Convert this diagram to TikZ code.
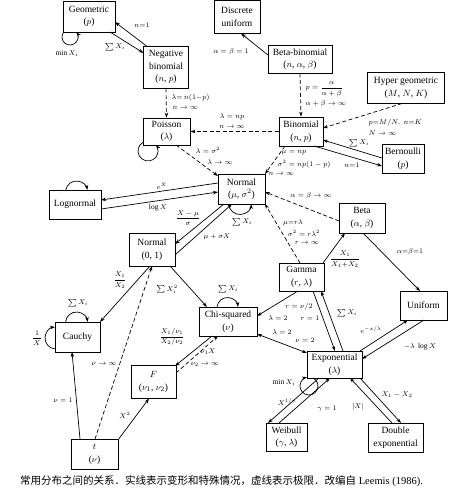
\documentclass[tikz,border=0pt]{standalone}
\usepackage{amsmath}
\usepackage{fontspec}
\setmainfont{Liberation Serif}
\newfontfamily\cjk{Noto Sans CJK SC}
\usetikzlibrary{arrows.meta}
\begin{document}
\begin{tikzpicture}[x=1pt,y=-1pt,
  box/.style={draw, line width=0.9pt, align=center, inner sep=1pt, font=\fontsize{9.5}{12.5}\selectfont},
  sz/.style 2 args={minimum width=#1pt, minimum height=#2pt},
  lbl/.style={font=\fontsize{7.5}{8.5}\selectfont, inner sep=0.5pt},
  arr/.style={-{Stealth[length=5pt,width=3.5pt]}, line width=0.7pt},
  dsh/.style={arr, dash pattern=on 4pt off 2.5pt},
]
\useasboundingbox (0,0) rectangle (474,493);
% boxes
\node[box, sz={52}{31}] (geo) at (89,16.5) {Geometric\\($p$)};
\node[box, sz={45}{42}] (negbin) at (166,67) {Negative\\binomial\\($n$, $p$)};
\node[box, sz={46}{33}] (dunif) at (237,17) {Discrete\\uniform};
\node[box, sz={64}{28}] (betabin) at (300,59) {Beta-binomial\\($n$,\ $\alpha$, $\beta$)};
\node[box, sz={77}{31}] (hyper) at (406,88) {Hyper geometric\\($M$, $N$, $K$)};
\node[box, sz={44}{29}] (binom) at (301,131.5) {Binomial\\($n$, $p$)};
\node[box, sz={42}{29}] (bern) at (403,158.5) {Bernoulli\\($p$)};
\node[box, sz={47}{27}] (poisson) at (166.5,131.5) {Poisson\\($\lambda$)};
\node[box, sz={52}{29}] (logn) at (75,204.5) {Lognormal};
\node[box, sz={47}{30}] (normal) at (241.5,189) {Normal\\($\mu$, $\sigma^2$)};
\node[box, sz={46}{33}] (norm01) at (152,249.5) {Normal\\(0, 1)};
\node[box, sz={46}{30}] (beta) at (362,218) {Beta\\($\alpha$, $\beta$)};
\node[box, sz={45}{28}] (gamma) at (301.5,277) {Gamma\\($r$, $\lambda$)};
\node[box, sz={47}{29}] (unif) at (423.5,305.5) {Uniform};
\node[box, sz={58}{29}] (chisq) at (228,321.5) {Chi-squared\\($\nu$)};
\node[box, sz={45}{30}] (cauchy) at (77.5,337) {Cauchy};
\node[box, sz={45}{33}] (fdist) at (153.5,382) {$F$\\($\nu_1$, $\nu_2$)};
\node[box, sz={55}{27}] (expo) at (334.5,364.5) {Exponential\\($\lambda$)};
\node[box, sz={41}{28}] (weib) at (286.5,437) {Weibull\\($\gamma$, $\lambda$)};
\node[box, sz={55}{29}] (dexp) at (395.5,437.5) {Double\\exponential};
\node[box, sz={47}{30}] (tdist) at (94.5,454) {$t$\\($\nu$)};
% connectors
\draw[arr] ([shift={(-19.5,-21)}]negbin.center) -- ([shift={(26,5.5)}]geo.center);
\draw[arr] ([shift={(21,15.5)}]geo.center) -- ([shift={(-22.5,-14)}]negbin.center);
\draw[dsh] (negbin.south) -- (poisson.north);
\draw[arr] ([shift={(-32,-4)}]betabin.center) -- ([shift={(4,16.5)}]dunif.center);
\draw[dsh] (betabin.south) -- (binom.north);
\draw[dsh] (binom.west) -- (poisson.east);
\draw[dsh] ([shift={(-4,15.5)}]hyper.center) -- ([shift={(22,-3.5)}]binom.center);
\draw[arr] ([shift={(-21,-0.5)}]bern.center) -- ([shift={(22,8.5)}]binom.center);
\draw[arr] ([shift={(13,14.5)}]binom.center) -- ([shift={(-21,7.5)}]bern.center);
\draw[dsh] ([shift={(-16,14.5)}]binom.center) -- ([shift={(23.5,-15)}]normal.center);
\draw[dsh] ([shift={(9.5,13.5)}]poisson.center) -- ([shift={(-23.5,-13)}]normal.center);
\draw[arr] ([shift={(-23.5,-6)}]normal.center) -- ([shift={(26,-4.5)}]logn.center);
\draw[arr] ([shift={(26,4.5)}]logn.center) -- ([shift={(-23.5,3)}]normal.center);
\draw[arr] ([shift={(-17.5,15)}]normal.center) -- ([shift={(23,-5.5)}]norm01.center);
\draw[arr] ([shift={(23,5.5)}]norm01.center) -- ([shift={(-9.5,15)}]normal.center);
\draw[dsh] ([shift={(-23,3)}]beta.center) -- ([shift={(23.5,3)}]normal.center);
\draw[dsh] ([shift={(-1.5,-14)}]gamma.center) -- ([shift={(23.5,15)}]normal.center);
\draw[arr] ([shift={(21.5,-14)}]gamma.center) -- ([shift={(-17,15)}]beta.center);
\draw[arr] ([shift={(1,15)}]beta.center) -- ([shift={(-3.5,-14.5)}]unif.center);
\draw[arr] ([shift={(-2,16.5)}]norm01.center) -- ([shift={(22.5,-15)}]cauchy.center);
\draw[arr] ([shift={(18,16.5)}]norm01.center) -- ([shift={(-21,-14.5)}]chisq.center);
\draw[arr] ([shift={(-3.5,14)}]gamma.center) -- ([shift={(29,-5.5)}]chisq.center);
\draw[{Stealth[length=5pt,width=3.5pt]}-{Stealth[length=5pt,width=3.5pt]}, line width=0.7pt] ([shift={(29,12.5)}]chisq.center) -- ([shift={(-27.5,-11.5)}]expo.center);
\draw[arr] ([shift={(11.5,14)}]gamma.center) -- ([shift={(0.5,-13.5)}]expo.center);
\draw[arr] ([shift={(8.5,-13.5)}]expo.center) -- ([shift={(19.5,14)}]gamma.center);
\draw[arr] ([shift={(25.5,-13.5)}]expo.center) -- ([shift={(-15.5,14.5)}]unif.center);
\draw[arr] ([shift={(0.5,14.5)}]unif.center) -- ([shift={(27.5,-5.5)}]expo.center);
\draw[arr] ([shift={(-15.5,13.5)}]expo.center) -- ([shift={(-18.5,-14)}]weib.center);
\draw[arr] ([shift={(-7.5,-14)}]weib.center) -- ([shift={(-4.5,13.5)}]expo.center);
\draw[arr] ([shift={(-3.5,-14.5)}]dexp.center) -- ([shift={(15.5,13.5)}]expo.center);
\draw[arr] ([shift={(25.5,13.5)}]expo.center) -- ([shift={(5.5,-14.5)}]dexp.center);
\draw[arr] ([shift={(-14.5,-15)}]tdist.center) -- ([shift={(-5.5,15)}]cauchy.center);
\draw[dsh] ([shift={(0.5,-15)}]tdist.center) -- ([shift={(0,16.5)}]norm01.center);
\draw[arr] ([shift={(23.5,-14)}]tdist.center) -- ([shift={(-4.5,16.5)}]fdist.center);
\draw[arr] ([shift={(-16,14.5)}]chisq.center) -- ([shift={(21.5,-16)}]fdist.center);
\draw[dsh] ([shift={(22.5,-9)}]fdist.center) -- ([shift={(-10,14.5)}]chisq.center);
% self loops
\draw[arr] ([shift={(-25.25,15.5)}]geo.center) arc[start angle=218.7, end angle=-38.7, radius=8];
\draw[arr] ([shift={(-23.5,10.8)}]poisson.center) arc[start angle=240, end angle=-37, radius=10];
\draw[arr] ([shift={(-9.3,-14.5)}]logn.center) arc[start angle=190.5, end angle=349.5, radius=11];
\draw[arr] ([shift={(-13,15)}]normal.center) arc[start angle=175, end angle=5, radius=11.5];
\draw[arr] ([shift={(-11.95,-15)}]cauchy.center) arc[start angle=185.2, end angle=354.8, radius=11];
\draw[arr] ([shift={(-22.5,11.95)}]cauchy.center) arc[start angle=95.2, end angle=264.8, radius=11];
\draw[arr] ([shift={(-10.95,-14.5)}]chisq.center) arc[start angle=185.5, end angle=354.5, radius=10.5];
\draw[arr] ([shift={(-21.4,13.5)}]expo.center) arc[start angle=-62.7, end angle=257.2, radius=9];
% labels
\node[lbl] (l1) at (142,25) {$n{=}1$};
\node[lbl] (l2) at (115,47) {$\sum X_i$};
\node[lbl] (l3) at (67,54) {$\min X_i$};
\node[lbl, anchor=west] (l4) at (171,98) {$\lambda{=}\,n(1{-}p)$};
\node[lbl, anchor=west] (l5) at (172,108) {$n\to\infty$};
\node[lbl] (l6) at (231,52) {$\alpha=\beta=1$};
\node[lbl, anchor=west] (l7) at (305,89) {$p=\dfrac{\alpha}{\alpha+\beta}$};
\node[lbl, anchor=west] (l8) at (305,104) {$\alpha+\beta\to\infty$};
\node[lbl] (l9) at (232,117) {$\lambda=np$};
\node[lbl] (l10) at (232,127) {$n\to\infty$};
\node[lbl, anchor=west] (l11) at (368,123) {$p{=}M/N,\ n{=}K$};
\node[lbl, anchor=west] (l12) at (368,133) {$N\to\infty$};
\node[lbl] (l13) at (359,143) {$\sum X_i$};
\node[lbl] (l14) at (352,165) {$n{=}1$};
\node[lbl, anchor=west] (l15) at (281,153) {$\mu=np$};
\node[lbl, anchor=west] (l16) at (277,164) {$\sigma^2=np(1-p)$};
\node[lbl, anchor=west] (l17) at (268,174) {$n\to\infty$};
\node[lbl] (l18) at (208,150) {$\lambda=\sigma^2$};
\node[lbl] (l19) at (220,162) {$\lambda\to\infty$};
\node[lbl] (l20) at (162,186) {$e^X$};
\node[lbl] (l21) at (158,208) {$\log X$};
\node[lbl] (l22) at (188,218) {$\dfrac{X-\mu}{\sigma}$};
\node[lbl] (l23) at (217,237) {$\mu+\sigma X$};
\node[lbl] (l24) at (242,222) {$\sum X_i$};
\node[lbl] (l25) at (311,196) {$\alpha=\beta\to\infty$};
\node[lbl] (l26) at (293,223) {$\mu{=}r\lambda$};
\node[lbl] (l27) at (304,233) {$\sigma^2=r\lambda^2$};
\node[lbl] (l28) at (307,243) {$r\to\infty$};
\node[lbl] (l29) at (345,259) {$\dfrac{X_1}{X_1{+}X_2}$};
\node[lbl] (l30) at (410,252) {$\alpha{=}\beta{=}1$};
\node[lbl] (l31) at (120,280) {$\dfrac{X_1}{X_2}$};
\node[lbl] (l32) at (167,289) {$\sum X_i^2$};
\node[lbl] (l33) at (78,303) {$\sum X_i$};
\node[lbl] (l34) at (37,338) {$\dfrac{1}{X}$};
\node[lbl] (l35) at (228,289) {$\sum X_i$};
\node[lbl] (l36) at (299,307) {$r=\nu/2$};
\node[lbl] (l37) at (278,318) {$\lambda=2$};
\node[lbl] (l38) at (310,318) {$r=1$};
\node[lbl] (l39) at (282,332) {$\lambda=2$};
\node[lbl] (l40) at (305,340) {$\nu=2$};
\node[lbl] (l41) at (347,313) {$\sum X_i$};
\node[lbl] (l42) at (371,330) {$e^{-x/\lambda}$};
\node[lbl] (l43) at (420,347) {$-\lambda\ \log X$};
\node[lbl] (l44) at (284,383) {$\min X_i$};
\node[lbl] (l45) at (287,402) {$X^{1/\gamma}$};
\node[lbl] (l46) at (327,409) {$\gamma=1$};
\node[lbl] (l47) at (358,407) {$|X|$};
\node[lbl] (l48) at (397,395) {$X_1-X_2$};
\node[lbl] (l49) at (63,400) {$\nu=1$};
\node[lbl] (l50) at (104,364) {$\nu\to\infty$};
\node[lbl] (l51) at (125,415) {$X^2$};
\node[lbl] (l52) at (172,337) {$\dfrac{X_1/\nu_1}{X_2/\nu_2}$};
\node[lbl] (l53) at (208,352) {$\nu_1 X$};
\node[lbl] (l54) at (205,364) {$\nu_2\to\infty$};
% caption
\node[anchor=west, inner sep=0] (cap) at (20,481) {\fontsize{10.5}{12}\selectfont\cjk 常用分布之间的关系．实线表示变形和特殊情况，虚线表示极限．改编自\rmfamily\ Leemis (1986).};
\end{tikzpicture}
\end{document}
